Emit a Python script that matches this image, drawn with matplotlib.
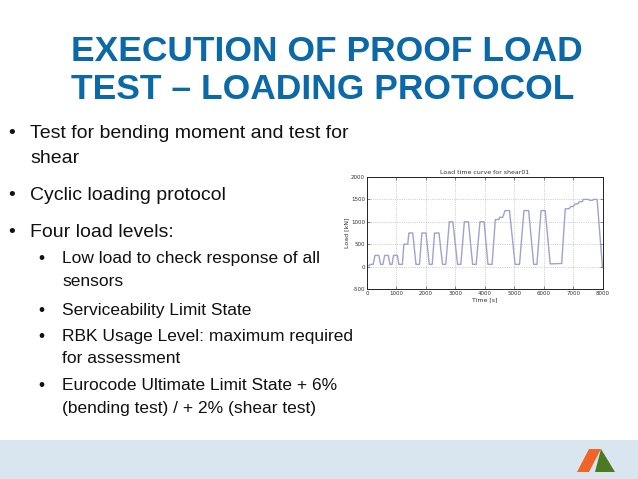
import numpy as np
import matplotlib.pyplot as plt
from matplotlib.patches import Polygon, Rectangle

plt.rcParams['axes.unicode_minus'] = False

# load-time curve breakpoints
time_s = [0, 120, 210, 270, 400, 460, 540, 600, 720, 780, 850, 900, 1030, 1080,
          1200, 1250, 1380, 1420, 1550, 1660, 1780, 1860, 2000, 2110, 2210, 2290,
          2440, 2560, 2670, 2790, 2910, 3070, 3180, 3300, 3440, 3580, 3700, 3830,
          3970, 4100, 4240, 4350, 4470, 4490, 4600, 4680, 4830, 5020, 5170, 5320,
          5480, 5650, 5760, 5900, 6040, 6210, 6600, 6720, 6850, 6900, 7000, 7050,
          7150, 7200, 7300, 7330, 7500, 7550, 7650, 7680, 7800, 7980, 8000]
load_kn = [0, 50, 50, 250, 250, 50, 50, 250, 250, 50, 50, 250, 250, 50,
           50, 500, 500, 750, 750, 50, 50, 750, 750, 50, 50, 750,
           750, 50, 50, 1000, 1000, 50, 50, 1000, 1000, 50, 50, 1000,
           1000, 50, 50, 1050, 1050, 1100, 1100, 1250, 1250, 50, 50, 1250,
           1250, 50, 50, 1250, 1250, 60, 70, 1290, 1290, 1340, 1340, 1400,
           1400, 1450, 1450, 1500, 1500, 1480, 1480, 1500, 1500, 0, 0]

x_ticks = [0, 1000, 2000, 3000, 4000, 5000, 6000, 7000, 8000]
y_ticks = [-500, 0, 500, 1000, 1500, 2000]

title_lines = ["EXECUTION OF PROOF LOAD", "TEST \u2013 LOADING PROTOCOL"]
bullets = [
    (0, "Test for bending moment and test for", 137.5),
    (0, "shear", 163),
    (0, "Cyclic loading protocol", 199.5),
    (0, "Four load levels:", 236.5),
    (1, "Low load to check response of all", 263.5),
    (1, "sensors", 286.5),
    (1, "Serviceability Limit State", 314.5),
    (1, "RBK Usage Level: maximum required", 340.5),
    (1, "for assessment", 363),
    (1, "Eurocode Ultimate Limit State + 6%", 390),
    (1, "(bending test) / + 2% (shear test)", 413),
]
has_bullet = [True, False, True, True, True, False, True, True, False, True, False]

W, H = 638, 479
fig = plt.figure(figsize=(W / 100, H / 100), dpi=100)
fig.set_facecolor('white')

# slide layer in pixel coordinates
bg = fig.add_axes([0, 0, 1, 1])
bg.set_xlim(0, W)
bg.set_ylim(H, 0)
bg.axis('off')

bg.add_patch(Rectangle((0, 440), W, H - 440, color='#d9e6f0', lw=0))
bg.add_patch(Polygon([(577, 472), (589, 449), (601, 449), (589, 472)], closed=True,
                     color='#f0642a', lw=0))
bg.add_patch(Polygon([(601, 449), (595, 472), (615, 472)], closed=True,
                     color='#4c7a22', lw=0))

for i, line in enumerate(title_lines):
    bg.text(71, [60.5, 98.5][i], line, fontsize=25.5, fontweight='bold',
            family='Liberation Sans', color='#0a69a6', va='baseline', ha='left')

for (lvl, txt, yb), b in zip(bullets, has_bullet):
    if lvl == 0:
        fs, xb, xt = 14, 8, 30
    else:
        fs, xb, xt = 12.5, 38, 62
    if b:
        bg.text(xb, yb, "\u2022", fontsize=fs, family='Liberation Sans',
                color='#111111', va='baseline', ha='left')
    bg.text(xt, yb, txt, fontsize=fs, family='Liberation Sans',
            color='#111111', va='baseline', ha='left')

# embedded chart
ax = fig.add_axes([367 / W, (H - 289) / H, 236 / W, 112 / H])
ax.plot(time_s, load_kn, color='#a0a0d4', lw=1.0)
ax.set_xlim(0, 8000)
ax.set_ylim(-500, 2000)
ax.set_xticks(x_ticks)
ax.set_yticks(y_ticks)
ax.grid(True, linestyle=':', color='#a8a8a8', lw=0.5)
ax.tick_params(direction='in', length=2, width=0.4, labelsize=4, pad=1.5,
               colors='#333333', top=True, right=True)
for s in ax.spines.values():
    s.set_linewidth(0.7)
    s.set_color('#222222')
ax.set_title("Load time curve for shear01", fontsize=4.5, pad=2, color='#333333')
ax.set_xlabel("Time [s]", fontsize=4.5, labelpad=1, color='#333333')
ax.set_ylabel("Load [kN]", fontsize=4.5, labelpad=1, color='#333333')

fig.savefig('out.png', dpi=100, facecolor=fig.get_facecolor())
